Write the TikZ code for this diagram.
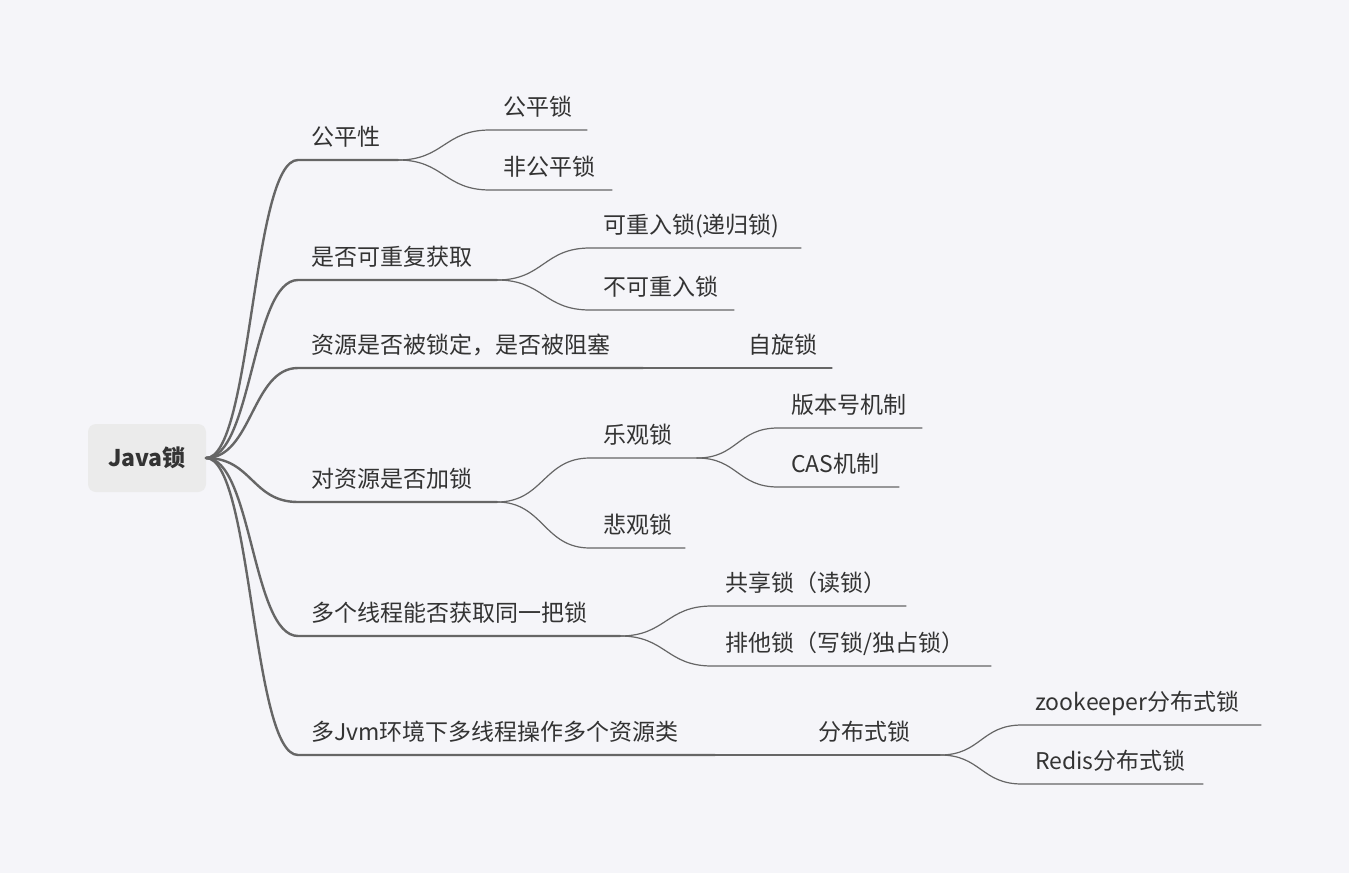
\documentclass[tikz,border=0pt]{standalone}
\usepackage{fontspec}
\setmainfont{Noto Sans CJK SC}
\definecolor{bg}{HTML}{F5F5F9}
\definecolor{ln}{HTML}{666666}
\definecolor{tx}{HTML}{333333}
\definecolor{rt}{HTML}{EBEBEB}
\tikzset{lbl/.style={anchor=base west,inner sep=0pt,text=tx,font=\fontsize{23}{23}\selectfont}}
% \br{name}{x0}{y0}{x1}{y1}{x2}{text}{width}
\newcommand{\br}[8]{%
  \coordinate (#1s) at (#2,#3);
  \coordinate (#1a) at (#4,#5);
  \coordinate (#1b) at (#6,#5);
  \draw[ln,line width=#8,line cap=round] (#1s) .. controls ({(#2+#4)/2},#3) and ({(#2+#4)/2},#5) .. (#1a) -- (#1b);
  \node[lbl] (#1t) at ({#4+13},{#5-15}) {#7};
}
\begin{document}
\begin{tikzpicture}[x=1pt,y=-1pt]
\fill[bg] (0,0) rectangle (1349,873);
\useasboundingbox (0,0) rectangle (1349,873);
\fill[rt,rounded corners=8pt] (88,424) rectangle (206,492);
\node[text=tx,font=\bfseries\fontsize{23}{23}\selectfont] (root) at (147,458) {Java锁};
\br{a}{206}{458}{298}{160}{398}{公平性}{2.4pt}
\br{b}{206}{458}{298}{280}{497}{是否可重复获取}{2.4pt}
\br{c}{206}{458}{298}{368}{643}{资源是否被锁定，是否被阻塞}{2.4pt}
\br{d}{206}{458}{298}{502}{497}{对资源是否加锁}{2.4pt}
\br{e}{206}{458}{298}{636}{620}{多个线程能否获取同一把锁}{2.4pt}
\br{f}{206}{458}{298}{755}{715}{多Jvm环境下多线程操作多个资源类}{2.4pt}
\br{a1}{398}{160}{490}{130}{587}{公平锁}{1.2pt}
\br{a2}{398}{160}{490}{190}{612}{非公平锁}{1.2pt}
\br{b1}{497}{280}{590}{248}{801}{可重入锁(递归锁)}{1.2pt}
\br{b2}{497}{280}{590}{310}{734}{不可重入锁}{1.2pt}
\br{c1}{643}{368}{735}{368}{832}{自旋锁}{1.2pt}
\br{d1}{497}{502}{590}{458}{697}{乐观锁}{1.2pt}
\br{d2}{497}{502}{590}{548}{685}{悲观锁}{1.2pt}
\br{d11}{697}{458}{778}{428}{922}{版本号机制}{1.2pt}
\br{d12}{697}{458}{778}{487}{899}{CAS机制}{1.2pt}
\br{e1}{620}{636}{712}{606}{906}{共享锁（读锁）}{1.2pt}
\br{e2}{620}{636}{712}{666}{991}{排他锁（写锁/独占锁）}{1.2pt}
\br{f1}{715}{755}{805}{755}{940}{分布式锁}{1.2pt}
\br{f11}{940}{755}{1022}{725}{1261}{zookeeper分布式锁}{1.2pt}
\br{f12}{940}{755}{1022}{784}{1203}{Redis分布式锁}{1.2pt}
\end{tikzpicture}
\end{document}
